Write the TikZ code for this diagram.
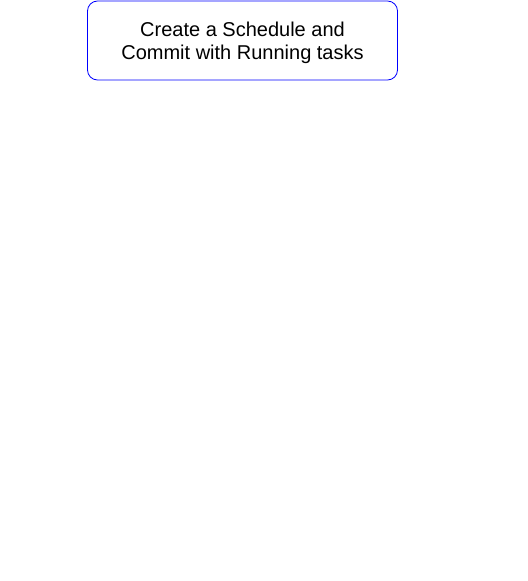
\documentclass[tikz,border=0pt]{standalone}
\usepackage{fontspec}
\setmainfont{Liberation Sans}
\begin{document}
\begin{tikzpicture}[x=1bp,y=-1bp,
  stepbox/.style={draw=blue, line width=0.8bp, rounded corners=10bp, minimum width=310bp, minimum height=79bp, inner sep=0pt, align=center, font=\fontsize{20bp}{23bp}\selectfont}]
\useasboundingbox[fill=white] (0,0) rectangle (528,581);
\node[stepbox] (create) at (242.5,40.5) {\rule{0pt}{18.5bp}Create a Schedule and\\Commit with Running tasks};
\end{tikzpicture}
\end{document}
